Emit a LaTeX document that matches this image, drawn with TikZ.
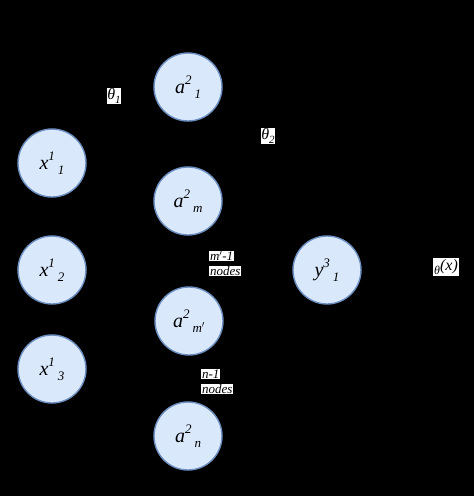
\documentclass[tikz,border=0pt]{standalone}
\usepackage{fontspec}
\setmainfont{Liberation Serif}
\usetikzlibrary{arrows.meta}
\definecolor{nfill}{HTML}{DAE8FC}
\definecolor{ndraw}{HTML}{6C8EBF}
\pgfdeclarelayer{bg}
\pgfsetlayers{bg,main}
\newcommand{\nlab}[3]{\textit{#1\raisebox{9pt}{\fontsize{13}{13}\selectfont #2}\hspace{3pt}\raisebox{-5pt}{\fontsize{13}{13}\selectfont #3}}}
\begin{document}
\begin{tikzpicture}[x=1pt,y=-1pt,
  neuron/.style={circle,draw=ndraw,fill=nfill,line width=1.4pt,minimum size=68pt,inner sep=0pt,font=\fontsize{20}{20}\selectfont},
  lab/.style={fill=white,inner sep=0.8pt,text=black,font=\itshape\fontsize{13}{13}\selectfont},
  conn/.style={draw=black,line width=0.8pt,-{Latex[length=6pt]}}]
\useasboundingbox (0,0) rectangle (474,496);
% nodes
\node[neuron] (x1) at (52,163) {\nlab{x}{1}{1}};
\node[neuron] (x2) at (52,270) {\nlab{x}{1}{2}};
\node[neuron] (x3) at (52,369) {\nlab{x}{1}{3}};
\node[neuron] (a1) at (188,87) {\nlab{a}{2}{1}};
\node[neuron] (am) at (188,201) {\nlab{a}{2}{m}};
\node[neuron] (amp) at (189,321) {\nlab{a}{2}{m$'$}};
\node[neuron] (an) at (188,436) {\nlab{a}{2}{n}};
\node[neuron] (y) at (327,270) {\nlab{y}{3}{1}};
\coordinate (out) at (430,270);
% background and connectors (black, as in the reference)
\begin{pgfonlayer}{bg}
\fill[black] (0,0) rectangle (474,496);
\foreach \s in {x1,x2,x3}{
  \foreach \t in {a1,am,amp,an}{
    \draw[conn] (\s) -- (\t);
  }
}
\foreach \s in {a1,am,amp,an}{
  \draw[conn] (\s) -- (y);
}
\draw[conn] (y) -- (out);
\end{pgfonlayer}
% labels
\node[lab,font=\itshape\fontsize{16}{16}\selectfont] (t1) at (114,96) {θ\raisebox{-0.2em}{\fontsize{11}{11}\selectfont 1}};
\node[lab,font=\itshape\fontsize{16}{16}\selectfont] (t2) at (268,136) {θ\raisebox{-0.2em}{\fontsize{11}{11}\selectfont 2}};
\node[lab,anchor=west] (m1) at (209,256) {m$'$-1};
\node[lab,anchor=west] (m2) at (209,271) {nodes};
\node[lab,anchor=west] (n1) at (201,374) {n-1};
\node[lab,anchor=west] (n2) at (201,389) {nodes};
\node[lab,font=\itshape\fontsize{16}{16}\selectfont] (h) at (446,267) {\raisebox{-0.3em}{\fontsize{12}{12}\selectfont θ}(x)};
\end{tikzpicture}
\end{document}
